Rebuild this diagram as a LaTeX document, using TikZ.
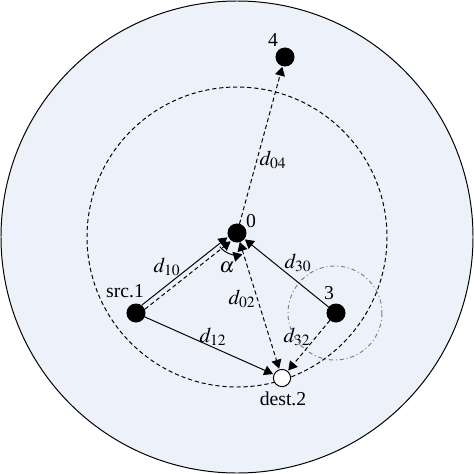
\documentclass[tikz,border=0pt]{standalone}
\usepackage{amsmath}
\usepackage{mathptmx}
\usepackage{fontspec}
\setmainfont{Liberation Serif}
\usepackage{tikz}
\usetikzlibrary{arrows}
\definecolor{bgblue}{RGB}{237,242,250}
\tikzstyle{relay}=[circle,draw=black,fill=black,inner sep=0mm, minimum size=0.45cm]
\tikzstyle{dest}=[circle,draw=black,fill=white,inner sep=0mm, minimum size=0.43cm]
\tikzstyle{lbl}=[inner sep=1pt,font=\fontsize{14}{16}\selectfont]
\tikzstyle{dlbl}=[inner sep=1pt,font=\fontsize{15}{17}\selectfont]
\tikzstyle{link}=[->,>=triangle 60,shorten >=0.5pt]
\tikzset{every picture/.style={
    line width=0.7
  }
}

\begin{document}
\begin{tikzpicture}[x=0.025cm,y=-0.025cm]
      \useasboundingbox (0,0) rectangle (474,474);
      \draw[fill=bgblue] (237,237) circle (236);
      \draw[densely dashed] (237,237) circle (150);
      \draw[gray,dash dot] (335,313) circle (47);
      \node[relay] at (237,233) (n0) {};
      \node[relay] at (136,313) (src) {};
      \node[dest] at (282,378) (dst) {};
      \node[relay] at (336,313) (n3) {};
      \node[relay] at (285,57) (n4) {};
      \node[lbl] at (273,40) {4};
      \node[lbl] at (251,221) {0};
      \node[lbl] at (125,291) {src.1};
      \node[lbl] at (329,293) {3};
      \node[lbl] at (283,399) {dest.2};
      \node[dlbl] at (273,160) {$d_{04}$};
      \node[dlbl] at (167,267) {$d_{10}$};
      \node[dlbl] at (227,267) {$\alpha$};
      \node[dlbl] at (298,263) {$d_{30}$};
      \node[dlbl] at (242,299) {$d_{02}$};
      \node[dlbl] at (213,337) {$d_{12}$};
      \node[dlbl] at (297,337) {$d_{32}$};
      \draw[link,transform canvas={shift={(-1.6,-2)}}] (src)--(n0);
      \draw[link,densely dashed,transform canvas={shift={(1.6,2)}}] (src)--(n0);
      \draw[link,densely dashed] (n0)--(n4);
      \draw[link] (n3)--(n0);
      \draw[link,<->,densely dashed] (n0)--(dst);
      \draw[link] (src)--(dst);
      \draw[link,densely dashed] (n3)--(dst);
      \draw[link] (n0.center) ++(141.6:22) arc[start angle=141.6,end angle=74,radius=22];
    \end{tikzpicture}
\end{document}
